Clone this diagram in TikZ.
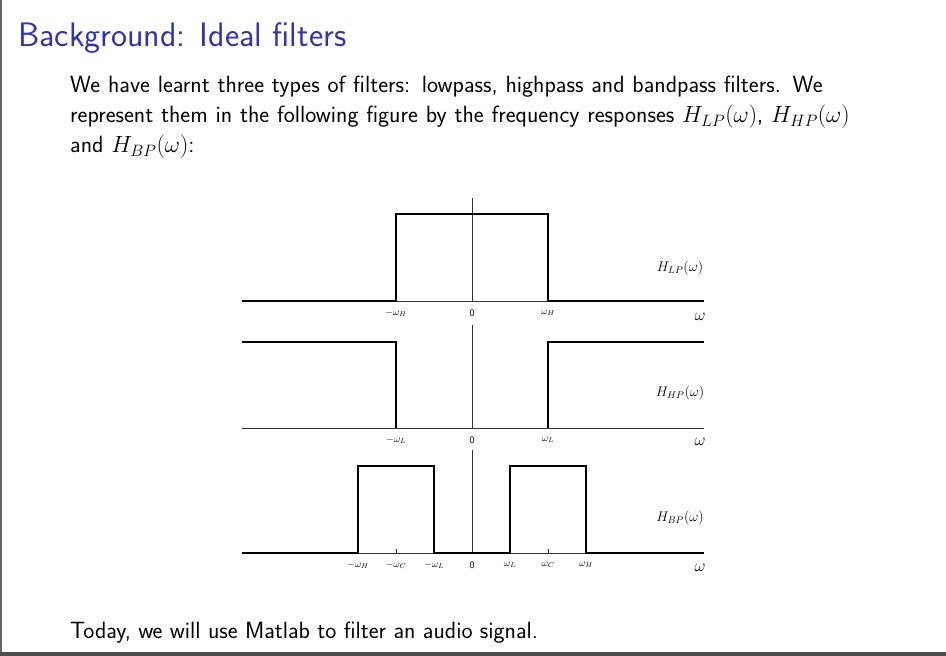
\RequirePackage{fix-cm}
\documentclass[tikz,border=0pt]{standalone}
\usepackage{xcolor}
\definecolor{titleblue}{RGB}{51,51,179}
\tikzset{ax/.style={line width=0.9pt,black!80},
 sig/.style={line width=1.6pt,black},
 tick/.style={font=\fontsize{10}{10}\selectfont,inner sep=0pt},
 hl/.style={font=\fontsize{14}{14}\selectfont,inner sep=0pt},
 wl/.style={font=\fontsize{17}{17}\selectfont,inner sep=0pt},
 body/.style={font=\sffamily\fontsize{23.5}{30}\selectfont,inner sep=0pt,anchor=north west,align=left,text width=780pt}}
\begin{document}
\begin{tikzpicture}[x=1pt,y=-1pt]
\useasboundingbox (0,0) rectangle (946,656);
\fill[white] (0,0) rectangle (946,656);
\draw[black!60,line width=1.5pt] (1,0) -- (1,652);
\fill[black!70] (0,652) rectangle (946,656);
\node[anchor=west,inner sep=0pt,font=\sffamily\fontsize{34}{34}\selectfont,text=titleblue] (title) at (18,38) {Background: Ideal filters};
\node[body] (txt) at (70,76) {We have learnt three types of filters: lowpass, highpass and bandpass filters. We represent them in the following figure by the frequency responses $H_{LP}(\omega)$, $H_{HP}(\omega)$ and $H_{BP}(\omega)$:};
\node[anchor=west,inner sep=0pt,font=\sffamily\fontsize{23.5}{30}\selectfont] (today) at (70,633) {Today, we will use Matlab to filter an audio signal.};
% panel 1
\draw[ax] (242,301) -- (704,301);
\draw[ax] (472,198) -- (472,301);
\foreach \x in {396,548} \draw[ax] (\x,301) -- (\x,297);
\draw[sig] (242,301) -- (396,301) -- (396,214) -- (548,214) -- (548,301) -- (704,301);
\node[tick] (a1) at (396,313) {$-\omega_H$};
\node[tick] (a2) at (472,313) {\sffamily 0};
\node[tick] (a3) at (548,313) {$\omega_H$};
\node[hl] (h1) at (680,268) {$H_{LP}(\omega)$};
\node[wl] (w1) at (700,317) {$\omega$};
% panel 2
\draw[ax] (242,428) -- (704,428);
\draw[ax] (472,325) -- (472,428);
\draw[sig] (242,342) -- (396,342) -- (396,428);
\draw[sig] (548,428) -- (548,342) -- (704,342);
\node[tick] (b1) at (396,440) {$-\omega_L$};
\node[tick] (b2) at (472,440) {\sffamily 0};
\node[tick] (b3) at (548,440) {$\omega_L$};
\node[hl] (h2) at (680,393) {$H_{HP}(\omega)$};
\node[wl] (w2) at (700,442) {$\omega$};
% panel 3
\draw[ax] (242,553) -- (704,553);
\draw[ax] (472,450) -- (472,553);
\foreach \x in {396,548} \draw[ax] (\x,553) -- (\x,549);
\draw[sig] (242,553) -- (358,553) -- (358,466) -- (434,466) -- (434,553) -- (510,553) -- (510,466) -- (586,466) -- (586,553) -- (704,553);
\node[tick] (c1) at (358,565) {$-\omega_H$};
\node[tick] (c2) at (396,565) {$-\omega_C$};
\node[tick] (c3) at (434,565) {$-\omega_L$};
\node[tick] (c4) at (472,565) {\sffamily 0};
\node[tick] (c5) at (510,565) {$\omega_L$};
\node[tick] (c6) at (548,565) {$\omega_C$};
\node[tick] (c7) at (586,565) {$\omega_H$};
\node[hl] (h3) at (680,518) {$H_{BP}(\omega)$};
\node[wl] (w3) at (700,568) {$\omega$};
\end{tikzpicture}
\end{document}
